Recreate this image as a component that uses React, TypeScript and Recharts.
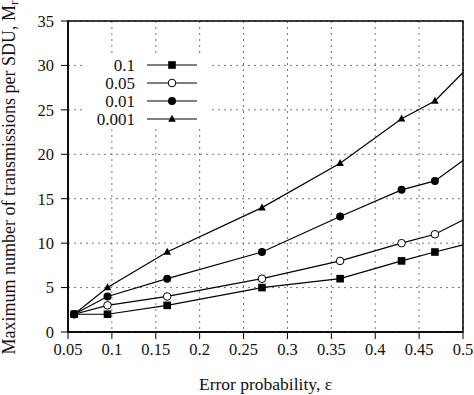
import React from "react";
import {
  LineChart,
  Line,
  XAxis,
  YAxis,
  CartesianGrid,
  ReferenceArea,
} from "recharts";

// error probability (x) and max transmissions per SDU for each target
const epsilon = [0.057, 0.095, 0.163, 0.271, 0.36, 0.43, 0.468, 0.5];
const m01 = [2, 2, 3, 5, 6, 8, 9, 9.8];
const m005 = [2, 3, 4, 6, 8, 10, 11, 12.6];
const m001 = [2, 4, 6, 9, 13, 16, 17, 19.3];
const m0001 = [2, 5, 9, 14, 19, 24, 26, 29.2];

const seriesNames = ["0.1", "0.05", "0.01", "0.001"];
const seriesKeys = ["s01", "s005", "s001", "s0001"];
const xTicks = [0.05, 0.1, 0.15, 0.2, 0.25, 0.3, 0.35, 0.4, 0.45, 0.5];
const yTicks = [0, 5, 10, 15, 20, 25, 30, 35];

const data = epsilon.map((e, i) => ({
  e,
  s01: m01[i],
  s005: m005[i],
  s001: m001[i],
  s0001: m0001[i],
}));

const FONT = '"Liberation Serif", "DejaVu Serif", serif';

type Shape = "square" | "open" | "filled" | "triangle";
const shapes: Shape[] = ["square", "open", "filled", "triangle"];

const Marker = ({ cx, cy, shape }: { cx: number; cy: number; shape: Shape }) => {
  if (shape === "square")
    return <rect x={cx - 3.8} y={cy - 3.8} width={7.6} height={7.6} fill="#000" />;
  if (shape === "open")
    return <circle cx={cx} cy={cy} r={3.8} fill="#fff" stroke="#000" strokeWidth={1} />;
  if (shape === "filled") return <circle cx={cx} cy={cy} r={4} fill="#000" />;
  return (
    <polygon
      points={`${cx},${cy - 4.2} ${cx + 3.8},${cy + 2.8} ${cx - 3.8},${cy + 2.8}`}
      fill="#000"
    />
  );
};

const makeDot = (shape: Shape) => (props: any) => {
  const { cx, cy, index } = props;
  if (index === epsilon.length - 1 || cx == null) return <g key={`d${index}`} />;
  return (
    <g key={`d${index}`}>
      <Marker cx={cx} cy={cy} shape={shape} />
    </g>
  );
};

const YLabel = (props: any) => {
  const { viewBox } = props;
  const cy = viewBox.y + viewBox.height / 2 + 1;
  return (
    <text
      x={9}
      y={cy}
      transform={`rotate(-90, 9, ${cy})`}
      textAnchor="middle"
      dominantBaseline="central"
      fontFamily={FONT}
      fontSize={18}
      fill="#111"
    >
      Maximum number of transmissions per SDU, M
      <tspan fontSize={13} dy={4}>r</tspan>
    </text>
  );
};

const LegendBox = () => (
  <svg
    width={474}
    height={395}
    style={{ position: "absolute", left: 0, top: 0, pointerEvents: "none" }}
  >
    <rect x={82} y={53} width={126} height={76} fill="#fff" />
    {seriesNames.map((name, i) => {
      const y = 65 + i * 18;
      return (
        <g key={name}>
          <text
            x={135}
            y={y}
            textAnchor="end"
            dominantBaseline="central"
            fontFamily={FONT}
            fontSize={17}
            fill="#111"
          >
            {name}
          </text>
          <line x1={147} x2={197} y1={y} y2={y} stroke="#000" strokeWidth={1.2} />
          <Marker cx={172} cy={y} shape={shapes[i]} />
        </g>
      );
    })}
  </svg>
);

export default function App() {
  const tickStyle = { fontFamily: FONT, fontSize: 16.5, fill: "#111" };
  return (
    <div style={{ position: "absolute", left: 0, top: 0, width: 474, height: 395, background: "#fff" }}>
      <LineChart
        width={474}
        height={395}
        data={data}
        margin={{ top: 21, right: 11, left: 0, bottom: 0 }}
      >
        <CartesianGrid stroke="#777" strokeDasharray="2 4" />
        <XAxis
          dataKey="e"
          type="number"
          domain={[0.05, 0.5]}
          ticks={xTicks}
          tickFormatter={(v: number) => String(Number(v.toFixed(2)))}
          height={63}
          tickSize={7}
          tickMargin={4}
          axisLine={{ stroke: "#000", strokeWidth: 1.5 }}
          tickLine={{ stroke: "#000" }}
          tick={tickStyle}
          interval={0}
          label={{
            value: "Error probability, ε",
            position: "insideBottom",
            offset: 5,
            style: { fontFamily: FONT, fontSize: 17.5, fill: "#111" },
          }}
        />
        <YAxis
          type="number"
          domain={[0, 35]}
          ticks={yTicks}
          width={68}
          tickSize={7}
          tickMargin={7}
          axisLine={{ stroke: "#000", strokeWidth: 1.5 }}
          tickLine={{ stroke: "#000" }}
          tick={tickStyle}
          interval={0}
          label={<YLabel />}
        />
        <ReferenceArea
          x1={0.05}
          x2={0.5}
          y1={0}
          y2={35}
          fill="none"
          stroke="#000"
          strokeWidth={1.5}
          ifOverflow="visible"
        />
        {seriesKeys.map((k, i) => (
          <Line
            key={k}
            dataKey={k}
            name={seriesNames[i]}
            type="linear"
            stroke="#000"
            strokeWidth={1.2}
            dot={makeDot(shapes[i])}
            activeDot={false}
            isAnimationActive={false}
          />
        ))}
      </LineChart>
      <LegendBox />
    </div>
  );
}
